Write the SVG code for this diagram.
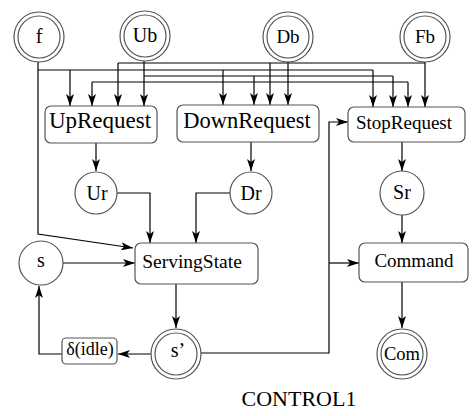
<svg xmlns="http://www.w3.org/2000/svg" width="474" height="416" viewBox="0 0 474 416">
<defs>
<marker id="ar" viewBox="0 0 12 8" refX="12" refY="4" markerWidth="12" markerHeight="8" markerUnits="userSpaceOnUse" orient="auto">
<path d="M0,0 L12,4 L0,8 L3,4 z" fill="#000"/>
</marker>
<style>
.n{fill:#fff;stroke:#555;stroke-width:1.2}
.t{font-family:"Liberation Serif","Times New Roman",serif;fill:#000;text-anchor:middle}
.c{fill:none;stroke:#000;stroke-width:1.2}
.a{marker-end:url(#ar)}
</style>
</defs>
<rect width="474" height="416" fill="#fff"/>
<g id="connectors">
<!-- f bus -->
<path class="c" d="M38,62 V234 L133,248" marker-end="url(#ar)"/>
<path class="c" d="M38,70 H373"/>
<path class="c a" d="M70,70 V106"/>
<path class="c a" d="M223,70 V105"/>
<path class="c a" d="M373,70 V107"/>
<!-- Ub bus -->
<path class="c a" d="M144,61 V106"/>
<path class="c" d="M144,76 H393"/>
<path class="c a" d="M254,76 V105"/>
<path class="c a" d="M393,76 V107"/>
<!-- Db bus -->
<path class="c a" d="M288,61 V105"/>
<path class="c" d="M92,82 H408"/>
<path class="c a" d="M92,82 V106"/>
<path class="c a" d="M408,82 V107"/>
<!-- Fb bus -->
<path class="c a" d="M425,62 V107"/>
<path class="c" d="M425,63 H118"/>
<path class="c a" d="M118,63 V106"/>
<path class="c a" d="M270,63 V105"/>
<!-- requests to circles -->
<path class="c a" d="M96,143 V171"/>
<path class="c a" d="M251,142 V171"/>
<path class="c a" d="M402,142 V171"/>
<path class="c a" d="M117,193 H150 V243"/>
<path class="c a" d="M230,193 H196 V243"/>
<path class="c a" d="M402,215 V243"/>
<path class="c a" d="M63,263 H135"/>
<path class="c a" d="M176,284 V328"/>
<path class="c a" d="M151,354 H118"/>
<path class="c a" d="M62,354 H39 V286"/>
<path class="c a" d="M201,353 H329 V122 H348"/>
<path class="c a" d="M329,263 H359"/>
<path class="c a" d="M402,282 V328"/>
</g>
<g id="f"><circle class="n" cx="39" cy="37" r="25"/><circle class="n" cx="39" cy="37" r="21"/><text class="t" x="39" y="43" font-size="20">f</text></g>
<g id="Ub"><circle class="n" cx="145" cy="36" r="25"/><circle class="n" cx="145" cy="36" r="21"/><text class="t" x="145" y="42" font-size="20">Ub</text></g>
<g id="Db"><circle class="n" cx="288" cy="37" r="25"/><circle class="n" cx="288" cy="37" r="21"/><text class="t" x="288" y="43" font-size="19">Db</text></g>
<g id="Fb"><circle class="n" cx="425" cy="37" r="25"/><circle class="n" cx="425" cy="37" r="21"/><text class="t" x="425" y="43" font-size="19">Fb</text></g>
<g id="UpRequest"><rect class="n" x="45" y="106" width="112" height="37" rx="6"/><text class="t" x="100" y="128" font-size="23">UpRequest</text></g>
<g id="DownRequest"><rect class="n" x="177" y="105" width="142" height="37" rx="6"/><text class="t" x="247" y="128" font-size="22.5">DownRequest</text></g>
<g id="StopRequest"><rect class="n" x="348" y="107" width="117" height="35" rx="6"/><text class="t" x="404" y="129" font-size="19">StopRequest</text></g>
<g id="Ur"><circle class="n" cx="96" cy="193" r="21"/><text class="t" x="97" y="200" font-size="20">Ur</text></g>
<g id="Dr"><circle class="n" cx="251" cy="193" r="21"/><text class="t" x="251" y="200" font-size="20">Dr</text></g>
<g id="Sr"><circle class="n" cx="402" cy="193" r="22"/><text class="t" x="402" y="199" font-size="20">Sr</text></g>
<g id="s"><circle class="n" cx="41" cy="263" r="22"/><text class="t" x="41" y="267" font-size="20">s</text></g>
<g id="ServingState"><rect class="n" x="135" y="243" width="123" height="41" rx="6"/><text class="t" x="192" y="268" font-size="19.5">ServingState</text></g>
<g id="Command"><rect class="n" x="359" y="243" width="109" height="39" rx="6"/><text class="t" x="414" y="267" font-size="19">Command</text></g>
<g id="s-prime"><circle class="n" cx="176" cy="354" r="25"/><circle class="n" cx="176" cy="354" r="21"/><text class="t" x="178" y="357" font-size="20">s’</text></g>
<g id="idle"><rect class="n" x="62" y="338" width="55" height="26" rx="4"/><text class="t" x="90" y="355" font-size="18">δ(idle)</text></g>
<g id="Com"><circle class="n" cx="402" cy="354" r="25"/><circle class="n" cx="402" cy="354" r="21"/><text class="t" x="402" y="360" font-size="18.5">Com</text></g>
<text class="t" x="299" y="406" font-size="22">CONTROL1</text>
</svg>
